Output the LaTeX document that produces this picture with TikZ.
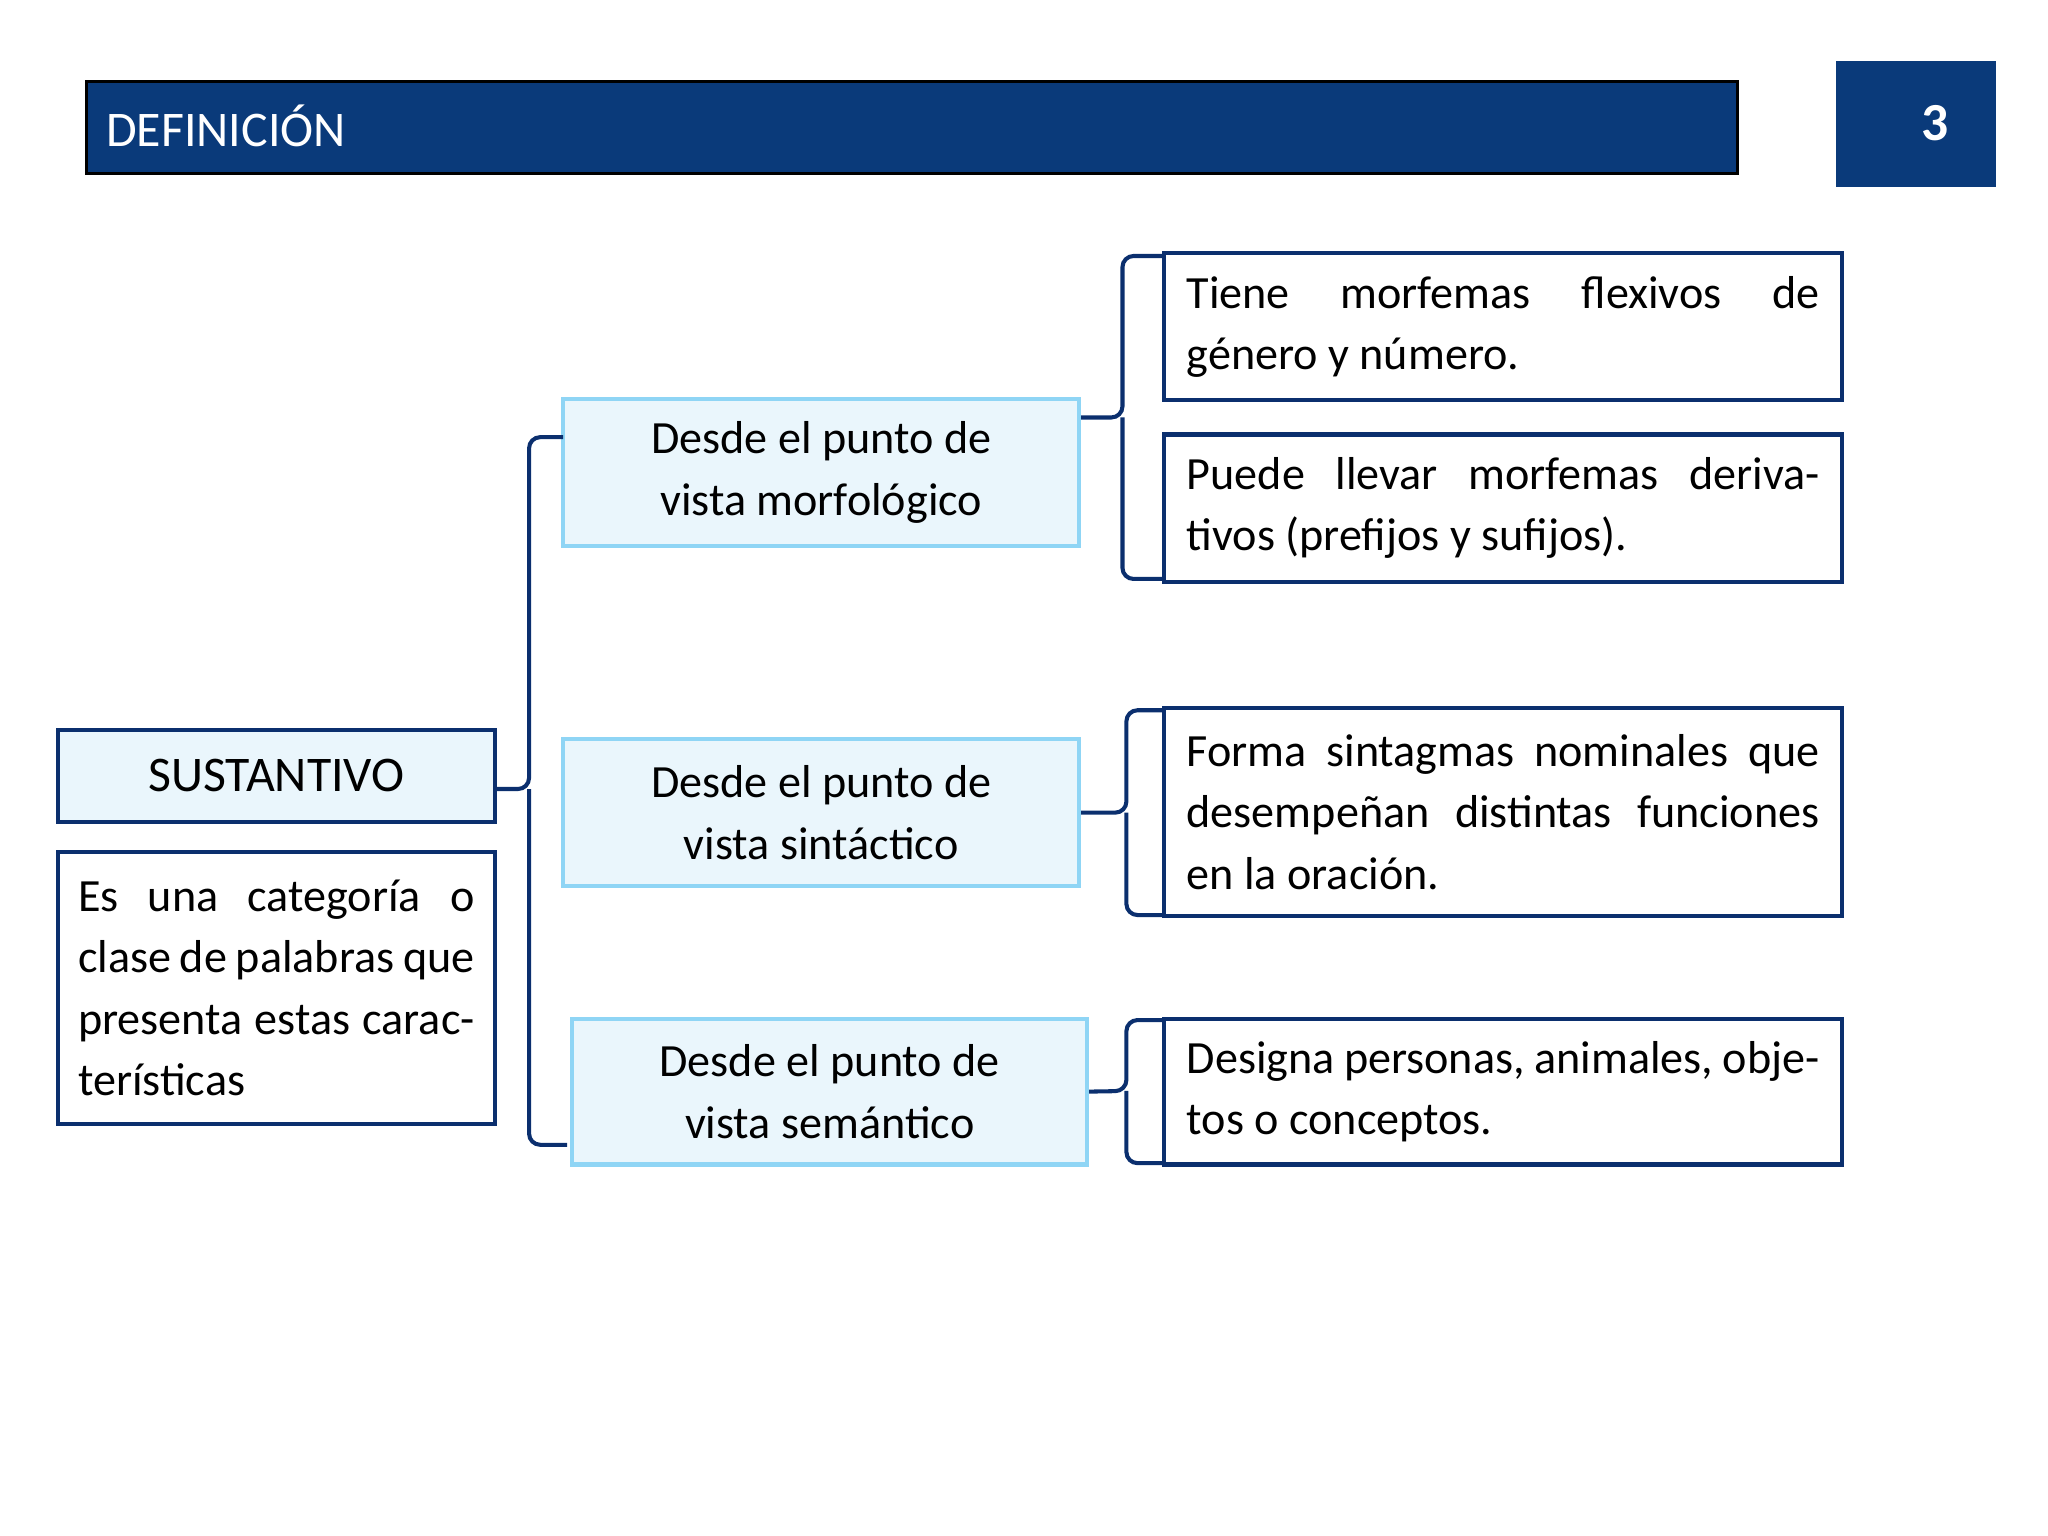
\documentclass[tikz,border=0pt]{standalone}
\usepackage{fontspec}
\setmainfont{Carlito}
\definecolor{navy}{HTML}{0A3A7A}
\definecolor{dblue}{HTML}{0B2F6E}
\definecolor{lborder}{HTML}{8FD5F5}
\definecolor{lfill}{HTML}{EAF6FC}
\begin{document}
\begin{tikzpicture}[x=0.025cm,y=-0.025cm,
  txt/.style={font=\fontsize{25}{33.4}\selectfont},
  midbox/.style={draw=lborder,line width=2.2pt,fill=lfill,minimum width=9.825cm,minimum height=2.8cm,align=center,txt},
  rbox/.style={draw=dblue,line width=2.2pt,fill=white,minimum width=12.9cm,minimum height=2.8cm,text width=12.05cm,align=justify,txt},
  brace/.style={draw=dblue,line width=2.2pt,rounded corners=6pt}]
\useasboundingbox (0,0) rectangle (1560,1170);
\node[draw=black,line width=1.5pt,fill=navy,minimum width=31.425cm,minimum height=1.75cm,anchor=north west,inner sep=0] (title) at (65,61) {};
\node[anchor=west,text=white,font=\fontsize{27}{32}\selectfont] (tt) at (76,96) {DEFINICIÓN};
\node[fill=navy,minimum width=3.05cm,minimum height=2.4cm,anchor=north west,inner sep=0] (num) at (1398,46) {};
\node[text=white,font=\fontsize{29}{32}\selectfont\bfseries] (numt) at (1474,94) {3};
\node[draw=dblue,line width=2.2pt,fill=lfill,minimum width=8.325cm,minimum height=1.75cm,txt,font=\fontsize{27}{32}\selectfont] (sust) at (210.5,591) {SUSTANTIVO};
\node[draw=dblue,line width=2.2pt,fill=white,minimum width=8.325cm,minimum height=5.175cm,text width=7.55cm,align=justify,txt] (desc) at (210.5,752.5) {Es una categoría o clase de palabras que presenta estas características};
\node[midbox] (m1) at (625.5,360) {Desde el punto de\\vista morfológico};
\node[midbox] (m2) at (625.5,619) {Desde el punto de\\vista sintáctico};
\node[midbox,minimum width=9.8cm,minimum height=2.775cm] (m3) at (632,831.5) {Desde el punto de\\vista semántico};
\node[rbox] (r1) at (1145,249) {Tiene morfemas flexivos de género y número.};
\node[rbox] (r2) at (1145,387) {Puede llevar morfemas derivativos (prefijos y sufijos).};
\node[rbox,minimum height=3.975cm] (r3) at (1145,618.5) {Forma sintagmas nominales que desempeñan distintas funciones en la oración.};
\node[rbox,minimum height=2.775cm] (r4) at (1145,831.5) {Designa personas, animales, objetos o conceptos.};
% braces
\coordinate (a1) at (429,333); \coordinate (a2) at (432,872);
\path[brace] (sust.east) ++(0,10) coordinate (at);
\draw[brace] (a1) -| (403,601) -- (at);
\draw[brace] (a2) -| (403,601);
\coordinate (b1) at (887,195); \coordinate (b2) at (887,441);
\draw[brace] (b1) -| (855,318) -- (m1.east |- 0,318);
\draw[brace] (b2) -| (855,318);
\coordinate (c1) at (887,541); \coordinate (c2) at (887,697);
\draw[brace] (c1) -| (858,619) -- (m2.east);
\draw[brace] (c2) -| (858,619);
\coordinate (d1) at (887,777); \coordinate (d2) at (887,886);
\draw[brace] (d1) -| (858,831) -- (m3.east);
\draw[brace] (d2) -| (858,831);
\end{tikzpicture}
\end{document}
